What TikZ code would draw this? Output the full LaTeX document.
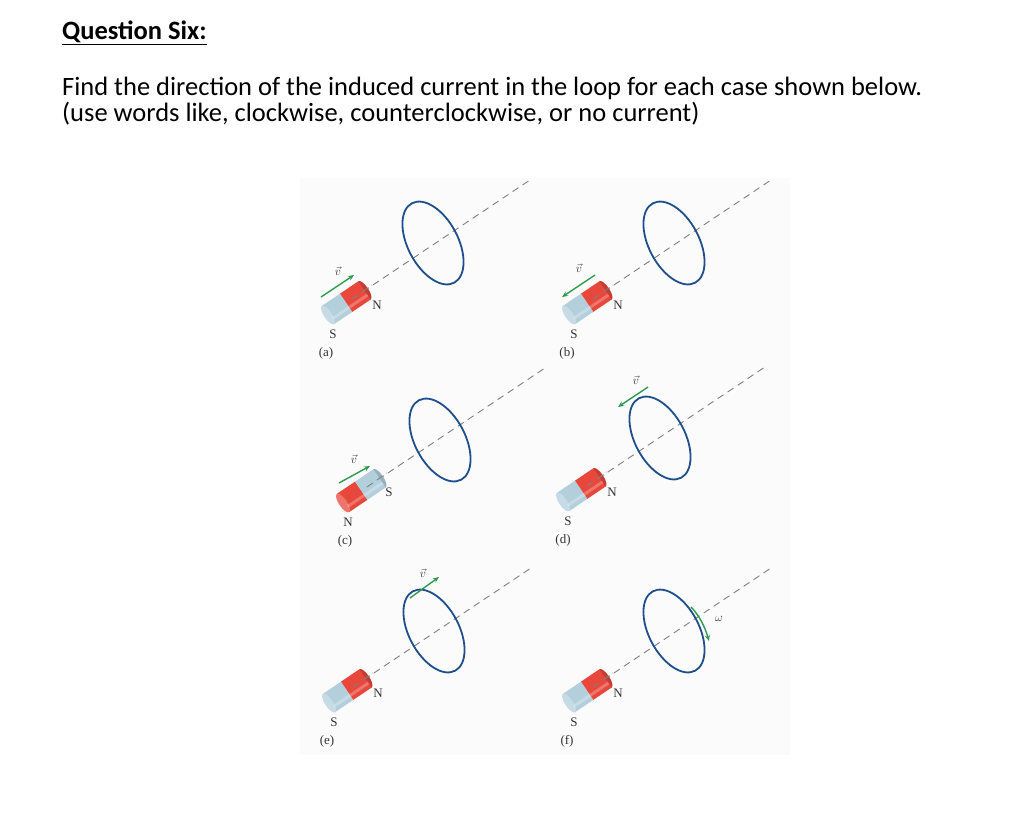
\documentclass[tikz,border=0pt]{standalone}
\usepackage{fontspec}
\setmainfont{Carlito}
\newfontfamily\figfont{Liberation Serif}
\usetikzlibrary{arrows.meta}
\definecolor{loopblue}{HTML}{1F4E8C}
\definecolor{mred}{HTML}{E8473C}
\definecolor{mblue}{HTML}{B3CFDC}
\definecolor{vgreen}{HTML}{2E9B4F}
\tikzset{
  axisline/.style={gray, dashed, dash pattern=on 7pt off 5pt, line width=0.9pt},
  loopring/.style={loopblue, line width=1.8pt},
  varrow/.style={vgreen, line width=1.4pt, -{Stealth[length=6pt,width=5pt]}},
  lab/.style={font=\figfont\fontsize{13}{13}\selectfont, text=black!80, inner sep=0pt},
  qtext/.style={font=\fontsize{26.5}{30}\selectfont, anchor=west, inner sep=0pt}
}
% #1 near colour, #2 far colour, #3 loop offset
\newcommand\mymagnet[3]{%
  \draw[axisline] (15,-10) -- (202,-135);
  \begin{scope}[rotate=34]
    \fill[#2!85!black] (44,0) ellipse (4 and 11);
    \fill[#1] (0,-11) rectangle (22,11);
    \fill[#2] (22,-11) rectangle (44,11);
    \fill[#1!75!white] (0,0) ellipse (4 and 11);
    \fill[white,opacity=0.25] (2,4) rectangle (44,7);
  \end{scope}
  \draw[axisline] (24,-16) -- (44,-30);
  \draw[loopring,rotate around={28:#3}] #3 ellipse (25 and 45);
}
\begin{document}
\begin{tikzpicture}[x=1pt,y=-1pt]
\useasboundingbox (0,0) rectangle (1024,814);
\fill[black!1.5] (300,178) rectangle (790,755);
\node[qtext,font=\bfseries\fontsize{26.5}{30}\selectfont] (title) at (62,33) {\underline{Question Six:}};
\node[qtext] (l1) at (62,88) {Find the direction of the induced current in the loop for each case shown below.};
\node[qtext] (l2) at (62,114) {(use words like, clockwise, counterclockwise, or no current)};
% (a)
\begin{scope}[shift={(328,315)}]
  \mymagnet{mblue}{mred}{(105,-72)}
  \draw[varrow] (-7,-18) -- (26,-40);
  \node[lab] (va) at (10,-44) {$\vec{v}$};
  \node[lab] (Sa) at (5,19) {S};
  \node[lab] (Na) at (49,-10) {N};
  \node[lab] (a) at (-2,38) {(a)};
\end{scope}
% (b)
\begin{scope}[shift={(569,315)}]
  \mymagnet{mblue}{mred}{(105,-72)}
  \draw[varrow] (26,-40) -- (-7,-18);
  \node[lab] (vb) at (10,-47) {$\vec{v}$};
  \node[lab] (Sb) at (5,19) {S};
  \node[lab] (Nb) at (49,-10) {N};
  \node[lab] (b) at (-2,38) {(b)};
\end{scope}
% (c)
\begin{scope}[shift={(343,503)}]
  \mymagnet{mred}{mblue}{(97,-63)}
  \draw[varrow] (-4,-20) -- (27,-37);
  \node[lab] (vc) at (11,-44) {$\vec{v}$};
  \node[lab] (Sc) at (46,-11) {S};
  \node[lab] (Nc) at (5,19) {N};
  \node[lab] (c) at (2,38) {(c)};
\end{scope}
% (d)
\begin{scope}[shift={(563,502)}]
  \mymagnet{mblue}{mred}{(97,-64)}
  \draw[varrow] (85,-115) -- (55,-95);
  \node[lab] (vd) at (73,-122) {$\vec{v}$};
  \node[lab] (Sd) at (5,19) {S};
  \node[lab] (Nd) at (49,-10) {N};
  \node[lab] (d) at (0,38) {(d)};
\end{scope}
% (e)
\begin{scope}[shift={(329,703)}]
  \mymagnet{mblue}{mred}{(105,-72)}
  \draw[varrow] (81,-105) -- (110,-126);
  \node[lab] (ve) at (94,-130) {$\vec{v}$};
  \node[lab] (Se) at (5,19) {S};
  \node[lab] (Ne) at (49,-10) {N};
  \node[lab] (e) at (-2,38) {(e)};
\end{scope}
% (f)
\begin{scope}[shift={(569,703)}]
  \mymagnet{mblue}{mred}{(105,-72)}
  \draw[varrow] (122,-96) .. controls (130,-88) and (136,-76) .. (140,-62);
  \node[lab] (wf) at (150,-84) {$\omega$};
  \node[lab] (Sf) at (5,19) {S};
  \node[lab] (Nf) at (49,-10) {N};
  \node[lab] (f) at (-2,38) {(f)};
\end{scope}
\end{tikzpicture}
\end{document}
